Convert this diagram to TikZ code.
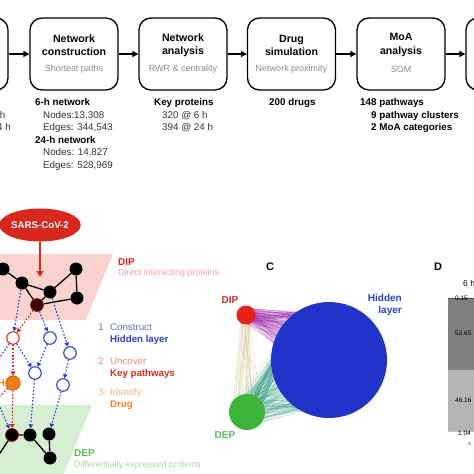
\documentclass[tikz,border=0pt]{standalone}
\usepackage{fontspec}
\setmainfont{Liberation Sans}
\usetikzlibrary{arrows.meta,shapes.geometric,calc}
\definecolor{sred}{HTML}{D8281E}
\definecolor{dipbg}{HTML}{FAD3CF}
\definecolor{diptxt}{HTML}{F0A49C}
\definecolor{depbg}{HTML}{D6EFD3}
\definecolor{deptxt}{HTML}{A9D9A5}
\definecolor{depgreen}{HTML}{5CBB58}
\definecolor{hblue}{HTML}{2B3FCF}
\definecolor{cblue}{HTML}{6070B8}
\definecolor{lred}{HTML}{E88A82}
\definecolor{kred}{HTML}{D62B20}
\definecolor{lorange}{HTML}{F2B67C}
\definecolor{dorange}{HTML}{EC8A1C}
\definecolor{onode}{HTML}{F27F12}
\definecolor{subgray}{HTML}{8A8A8A}
\definecolor{infogray}{HTML}{333333}
\definecolor{bigblue}{HTML}{2233CC}
\definecolor{blobred}{HTML}{E8201A}
\definecolor{blobgreen}{HTML}{3DB53A}
\definecolor{purpleedge}{HTML}{9A2AA8}
\definecolor{tealedge}{HTML}{2A957A}
\definecolor{beigeedge}{HTML}{D9C7A0}
\definecolor{bardark}{HTML}{808080}
\definecolor{barlight}{HTML}{B4B4B4}
\begin{document}
\begin{tikzpicture}[x=1pt,y=-1pt,
  stage/.style={draw=black,line width=1.3pt,rounded corners=12pt,minimum width=88pt,minimum height=72pt,inner sep=0pt},
  flow/.style={line width=1.2pt,-{Triangle[length=6pt,width=6pt]}},
  ttl/.style={font=\fontsize{10.6}{13.5}\selectfont\bfseries,align=center,inner sep=0pt},
  subt/.style={font=\fontsize{9}{11}\selectfont,text=subgray,inner sep=0pt},
  info/.style={font=\fontsize{9.8}{12}\selectfont,text=infogray,anchor=west,inner sep=0pt,text height=7pt,text depth=2pt},
  infob/.style={info,text=black,font=\fontsize{9.8}{12}\selectfont\bfseries},
  blk/.style={circle,fill=black,minimum size=13pt,inner sep=0pt},
  hid/.style={circle,draw=hblue,line width=1.1pt,fill=white,minimum size=12.5pt,inner sep=0pt},
  dotb/.style={hblue,line width=1.1pt,dash pattern=on 1.6pt off 1.8pt,-{Triangle[length=4pt,width=4.5pt]}},
  dotr/.style={sred,line width=1.1pt,dash pattern=on 1.6pt off 1.8pt,-{Triangle[length=4pt,width=4.5pt]}},
  lnk/.style={line width=1.3pt},
  lbl/.style={font=\fontsize{9.7}{12}\selectfont,anchor=west,inner sep=0pt,text height=7pt,text depth=2pt},
  lblb/.style={lbl,font=\fontsize{9.7}{12}\selectfont\bfseries},
  dval/.style={font=\fontsize{6.5}{8}\selectfont,inner sep=0pt,anchor=west},
]
\useasboundingbox (0,0) rectangle (474,474);
\clip (0,0) rectangle (474,474);

% ---------- top pipeline ----------
\node[stage] (s0) at (-36,54) {};
\node[stage] (s1) at (74,54) {};
\node[stage] (s2) at (183,54) {};
\node[stage] (s3) at (291.5,54) {};
\node[stage] (s4) at (401,54) {};
\node[stage] (s5) at (510,54) {};
\draw[flow] (s0.east) -- (s1.west);
\draw[flow] (s1.east) -- (s2.west);
\draw[flow] (s2.east) -- (s3.west);
\draw[flow] (s3.east) -- (s4.west);
\draw[flow] (s4.east) -- (s5.west);

\node[ttl] (t1) at (74,45.2) {Network\\construction};
\node[subt] (u1) at (74,69.5) {Shortest paths};
\node[ttl] (t2) at (183,45.2) {Network\\analysis};
\node[subt] (u2) at (183,69.5) {RWR \& centrality};
\node[ttl] (t3) at (291.5,45.2) {Drug\\simulation};
\node[subt] (u3) at (291.5,69.5) {Network proximity};
\node[ttl] (t4) at (401,45.2) {MoA\\analysis};
\node[subt] (u4) at (401,69.5) {SOM};

\node[info,anchor=east] (l0a) at (5.5,115.5) {@ 6 h};
\node[info,anchor=east] (l0b) at (11,128) {@ 24 h};

\node[infob] (i1) at (35,103) {6-h network};
\node[info] (i2) at (43,115.5) {Nodes:13,308};
\node[info] (i3) at (43,128) {Edges: 344,543};
\node[infob] (i4) at (35,140.5) {24-h network};
\node[info] (i5) at (43,153) {Nodes: 14,827};
\node[info] (i6) at (43,165.5) {Edges: 528,969};

\node[infob] (k1) at (154,103) {Key proteins};
\node[info] (k2) at (162,115.5) {320 @ 6 h};
\node[info] (k3) at (162,128) {394 @ 24 h};

\node[infob] (d1t) at (269,103) {200 drugs};

\node[infob] (m1) at (360,103) {148 pathways};
\node[infob] (m2) at (371,115.5) {9 pathway clusters};
\node[infob] (m3) at (371,128) {2 MoA categories};

% ---------- panel B ----------
\fill[dipbg] (-5,254) -- (113,254) -- (86,320) -- (-5,320) -- cycle;
\fill[depbg] (-5,405) -- (92,405) -- (63,476) -- (-5,476) -- cycle;

\node[ellipse,fill=sred,minimum width=76pt,minimum height=33pt,inner sep=0pt,text=white,font=\fontsize{9.7}{12}\selectfont\bfseries] (sars) at (40,225) {SARS-CoV-2};
\coordinate (sarsend) at (40,277);
\draw[sred,line width=1.6pt,-{Triangle[length=6pt,width=7pt]}] (sars.south) -- (sarsend);

\node[blk] (n1) at (3,269) {};
\node[blk] (n2) at (22,283) {};
\node[blk] (n3) at (50,292) {};
\node[blk] (n4) at (76,269) {};
\node[blk] (n5) at (77,298) {};
\node[blk,fill=black!75!red,draw=sred!70!black,line width=0.6pt] (n6) at (37,305) {};
\draw[lnk] (n1) -- (n2) (n2) -- (n3) (n2) -- (n6) (n3) -- (n6) (n3) -- (n4) (n4) -- (n5) (n6) -- (n5);

\node[hid,draw=sred] (r1) at (13,338) {};
\node[hid] (b1) at (50,338) {};
\node[hid] (b2) at (70,353) {};
\node[hid] (b3) at (35,373) {};
\node[hid] (b4) at (63,385) {};
\node[circle,fill=onode,draw=sred!80!onode,line width=0.6pt,minimum size=14.5pt,inner sep=0pt] (o1) at (13,383) {};
\node[anchor=east,inner sep=0pt,text=onode,font=\fontsize{9.7}{12}\selectfont\bfseries] (hcut) at (5,383) {H};

\node[blk,draw=sred!80!black,line width=0.8pt] (e1) at (12,435) {};
\node[blk] (e2) at (30,435) {};
\node[blk] (e3) at (49,434) {};
\node[blk] (e4) at (50,458) {};
\coordinate (eoff) at (-6,462);
\draw[lnk] (e1) -- (e2) (e2) -- (e4) (e3) -- (e4) (e1) -- (eoff);

\draw[dotb] (n2) -- (r1);
\draw[dotr] (n6) -- (r1);
\draw[dotb] (n6) -- (b1);
\draw[dotb] (n3) -- (b2);
\draw[dotr] (r1) -- (o1);
\draw[dotb] (r1) -- (b3);
\draw[dotb] (b1) -- (b3);
\draw[dotb] (b2) -- (b4);
\draw[dotb] (b3) -- (e2);
\draw[dotb] (b4) -- (e3);
\draw[dotr] (o1) -- (e1);
\coordinate (boff) at (-4,398);
\draw[dotb] (boff) -- (e1);
\coordinate (boff2) at (-6,366);
\draw[hblue,line width=1.1pt,dash pattern=on 1.6pt off 1.8pt] (r1) -- (boff2);
\coordinate (roff) at (-6,402);
\draw[sred,line width=1.1pt,dash pattern=on 1.6pt off 1.8pt] (o1) -- (roff);

\node[font=\fontsize{10}{12}\selectfont\bfseries,text=sred,anchor=west,inner sep=0pt] (diplbl) at (118,262) {DIP};
\node[font=\fontsize{8.9}{11}\selectfont,text=diptxt,anchor=west,inner sep=0pt] (dipsub) at (118,273.5) {Direct interacting proteins};
\node[font=\fontsize{10}{12}\selectfont\bfseries,text=depgreen,anchor=west,inner sep=0pt] (deplbl) at (74,453) {DEP};
\node[font=\fontsize{8.9}{11}\selectfont,text=deptxt,anchor=west,inner sep=0pt] (depsub) at (74,465) {Differentially expressed proteins};

\node[lbl,text=cblue,anchor=center] (g1) at (101,328) {1};
\node[lbl,text=cblue] (g1a) at (110,328) {Construct};
\node[lblb,text=hblue] (g1b) at (110,339.5) {Hidden layer};
\node[lbl,text=lred,anchor=center] (g2) at (101,362) {2};
\node[lbl,text=lred] (g2a) at (110,362) {Uncover};
\node[lblb,text=kred] (g2b) at (110,373.5) {Key pathways};
\node[lbl,text=lorange,anchor=center] (g3) at (101,393) {3};
\node[lbl,text=lorange] (g3a) at (110,393) {Identify};
\node[lblb,text=dorange] (g3b) at (110,405) {Drug};

% ---------- panel C ----------
\node[font=\fontsize{11}{13}\selectfont\bfseries,inner sep=0pt] (pc) at (270,267) {C};
\pgfmathsetseed{11}
\foreach \i in {1,...,40}{
  \pgfmathsetmacro\sx{246+12*(rnd-0.5)}
  \pgfmathsetmacro\tx{247+32*(rnd-0.5)}
  \draw[beigeedge,opacity=0.45,line width=0.35pt] (\sx,318) -- (\tx,405);
}
\foreach \i in {1,...,160}{
  \pgfmathsetmacro\a{106+62*rnd}
  \pgfmathsetmacro\sx{246+14*(rnd-0.5)}
  \pgfmathsetmacro\sy{315+14*(rnd-0.5)}
  \draw[purpleedge,opacity=0.3,line width=0.35pt] (\sx,\sy) -- ($(329,360)+(\a:50pt)$);
}
\foreach \i in {1,...,200}{
  \pgfmathsetmacro\a{150+110*rnd}
  \pgfmathsetmacro\sx{247+26*(rnd-0.5)}
  \pgfmathsetmacro\sy{412+26*(rnd-0.5)}
  \draw[tealedge,opacity=0.3,line width=0.35pt] (\sx,\sy) -- ($(329,360)+(\a:50pt)$);
}
\fill[bigblue] (329,360) circle[radius=58pt];
\fill[blobred] (246,315) circle[radius=9.5pt];
\fill[blobgreen] (247,412) circle[radius=18pt];
\node[font=\fontsize{10}{12}\selectfont\bfseries,text=sred,inner sep=0pt] (cdip) at (230,300) {DIP};
\node[font=\fontsize{10}{12}\selectfont\bfseries,text=depgreen,inner sep=0pt] (cdep) at (225,435) {DEP};
\node[font=\fontsize{10}{12.2}\selectfont\bfseries,text=hblue,align=right,anchor=east,inner sep=0pt] (chid) at (402,305) {Hidden\\layer};

% ---------- panel D ----------
\node[font=\fontsize{11}{13}\selectfont\bfseries,inner sep=0pt] (pd) at (438,267) {D};
\node[font=\fontsize{8.5}{10}\selectfont,anchor=west,inner sep=0pt] (dt) at (463,283) {6 h};
\fill[bardark] (448,298) rectangle (476,370);
\fill[barlight] (448,370) rectangle (476,431);
\draw[black!70,line width=0.5pt] (448,298) -- (476,298);
\draw[black!25,line width=0.5pt] (448,431) -- (476,431);
\node[dval] (v1) at (455,298) {0.15};
\node[dval] (v2) at (455,333) {52.65};
\node[dval] (v3) at (455,400) {46.16};
\node[dval] (v4) at (458,433) {1.04};
\fill[black!25] (467.5,441.5) rectangle (470.5,444.5);
\end{tikzpicture}
\end{document}
